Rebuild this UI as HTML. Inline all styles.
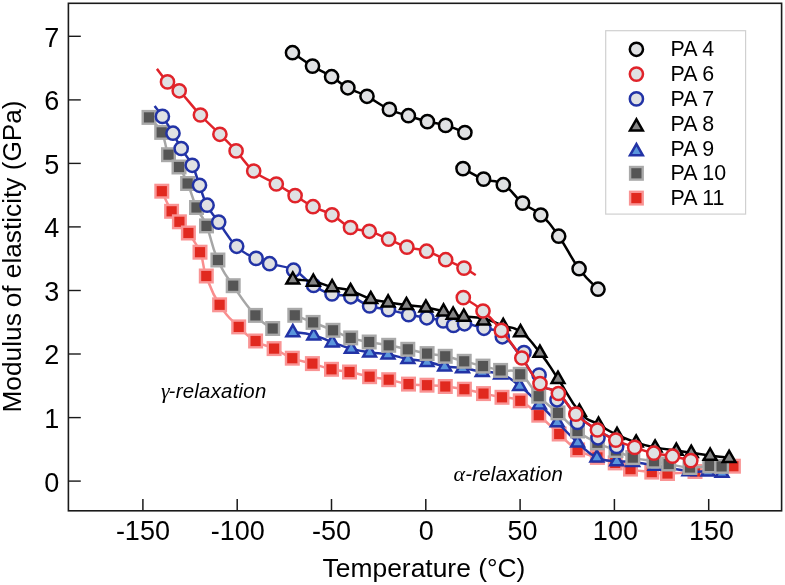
<!DOCTYPE html>
<html><head><meta charset="utf-8"><title>Modulus of elasticity vs temperature</title>
<style>html,body{margin:0;padding:0;background:#fff;}svg{display:block;}</style>
</head><body>
<svg width="785" height="585" viewBox="0 0 785 585"><rect width="785" height="585" fill="#fff"/><path d="M161.8,191.2 C164.4,196.6 166.9,203.1 171.6,211.3 C176.3,219.5 174.9,216 179.4,221.8 C183.9,227.6 182.9,224.9 188.4,233 C193.9,241.1 195.2,240.7 200,252.2 C204.8,263.7 201.1,262 206.3,276 C211.5,290 211,291.2 219.6,304.8 C228.2,318.4 229.1,317.2 238.7,326.9 C248.3,336.6 246.2,335.2 255.6,341 C265,346.8 264.3,344 274.1,348.6 C283.9,353.2 282.1,354.2 292.3,358.2 C302.5,362.2 301.9,360.6 312.4,363.6 C322.9,366.6 321.6,367.1 331.5,369.3 C341.4,371.5 339.3,370 349.5,372 C359.7,374 359.1,374.6 369.6,376.7 C380.1,378.8 378.3,377.7 388.7,379.7 C399.1,381.7 398.3,382.6 408.5,384.1 C418.7,385.6 417.2,384.6 427,385.2 C436.8,385.8 435.3,385.4 445.3,386.5 C455.3,387.6 454.2,387.3 464.4,389.2 C474.6,391.1 473.5,391.4 483.5,393.6 C493.5,395.8 492.2,395.4 502,397.3 C511.8,399.2 510.5,396 520.3,400.8 C530.1,405.6 528.4,406.3 538.8,415.2 C549.2,424.1 548.9,424.7 559.2,434 C569.5,443.3 567.4,443.7 577.6,449.9 C587.8,456.1 587.4,453.9 597.4,457.4 C607.4,460.9 606.4,459.8 615.2,462.9 C624,466 620.7,466.6 630.5,469.1 C640.3,471.6 641.9,470.9 651.8,472.1 C661.7,473.3 656,473.7 667.5,473.5 C679,473.3 677.4,473.4 695,471.5 C712.6,469.6 723.2,467.6 733.4,466.2" fill="none" stroke="#f98e8e" stroke-width="2.5" stroke-linejoin="round" stroke-linecap="butt"/><rect x="155.5" y="184.9" width="12.6" height="12.6" fill="#e1291f" stroke="#f99494" stroke-width="2.4"/><rect x="165.3" y="205" width="12.6" height="12.6" fill="#e1291f" stroke="#f99494" stroke-width="2.4"/><rect x="173.1" y="215.5" width="12.6" height="12.6" fill="#e1291f" stroke="#f99494" stroke-width="2.4"/><rect x="182.1" y="226.7" width="12.6" height="12.6" fill="#e1291f" stroke="#f99494" stroke-width="2.4"/><rect x="193.7" y="245.9" width="12.6" height="12.6" fill="#e1291f" stroke="#f99494" stroke-width="2.4"/><rect x="200" y="269.7" width="12.6" height="12.6" fill="#e1291f" stroke="#f99494" stroke-width="2.4"/><rect x="213.3" y="298.5" width="12.6" height="12.6" fill="#e1291f" stroke="#f99494" stroke-width="2.4"/><rect x="232.4" y="320.6" width="12.6" height="12.6" fill="#e1291f" stroke="#f99494" stroke-width="2.4"/><rect x="249.3" y="334.7" width="12.6" height="12.6" fill="#e1291f" stroke="#f99494" stroke-width="2.4"/><rect x="267.8" y="342.3" width="12.6" height="12.6" fill="#e1291f" stroke="#f99494" stroke-width="2.4"/><rect x="286" y="351.9" width="12.6" height="12.6" fill="#e1291f" stroke="#f99494" stroke-width="2.4"/><rect x="306.1" y="357.3" width="12.6" height="12.6" fill="#e1291f" stroke="#f99494" stroke-width="2.4"/><rect x="325.2" y="363" width="12.6" height="12.6" fill="#e1291f" stroke="#f99494" stroke-width="2.4"/><rect x="343.2" y="365.7" width="12.6" height="12.6" fill="#e1291f" stroke="#f99494" stroke-width="2.4"/><rect x="363.3" y="370.4" width="12.6" height="12.6" fill="#e1291f" stroke="#f99494" stroke-width="2.4"/><rect x="382.4" y="373.4" width="12.6" height="12.6" fill="#e1291f" stroke="#f99494" stroke-width="2.4"/><rect x="402.2" y="377.8" width="12.6" height="12.6" fill="#e1291f" stroke="#f99494" stroke-width="2.4"/><rect x="420.7" y="378.9" width="12.6" height="12.6" fill="#e1291f" stroke="#f99494" stroke-width="2.4"/><rect x="439" y="380.2" width="12.6" height="12.6" fill="#e1291f" stroke="#f99494" stroke-width="2.4"/><rect x="458.1" y="382.9" width="12.6" height="12.6" fill="#e1291f" stroke="#f99494" stroke-width="2.4"/><rect x="477.2" y="387.3" width="12.6" height="12.6" fill="#e1291f" stroke="#f99494" stroke-width="2.4"/><rect x="495.7" y="391" width="12.6" height="12.6" fill="#e1291f" stroke="#f99494" stroke-width="2.4"/><rect x="514" y="394.5" width="12.6" height="12.6" fill="#e1291f" stroke="#f99494" stroke-width="2.4"/><rect x="532.5" y="408.9" width="12.6" height="12.6" fill="#e1291f" stroke="#f99494" stroke-width="2.4"/><rect x="552.9" y="427.7" width="12.6" height="12.6" fill="#e1291f" stroke="#f99494" stroke-width="2.4"/><rect x="571.3" y="443.6" width="12.6" height="12.6" fill="#e1291f" stroke="#f99494" stroke-width="2.4"/><rect x="591.1" y="451.1" width="12.6" height="12.6" fill="#e1291f" stroke="#f99494" stroke-width="2.4"/><rect x="608.9" y="456.6" width="12.6" height="12.6" fill="#e1291f" stroke="#f99494" stroke-width="2.4"/><rect x="624.2" y="462.8" width="12.6" height="12.6" fill="#e1291f" stroke="#f99494" stroke-width="2.4"/><rect x="645.5" y="465.8" width="12.6" height="12.6" fill="#e1291f" stroke="#f99494" stroke-width="2.4"/><rect x="661.2" y="467.2" width="12.6" height="12.6" fill="#e1291f" stroke="#f99494" stroke-width="2.4"/><rect x="688.7" y="465.2" width="12.6" height="12.6" fill="#e1291f" stroke="#f99494" stroke-width="2.4"/><rect x="727.1" y="459.9" width="12.6" height="12.6" fill="#e1291f" stroke="#f99494" stroke-width="2.4"/><path d="M292.8,332.1 C298.4,332.9 303.2,332.6 313.7,335.4 C324.2,338.1 322.2,338.7 332.2,342.2 C342.2,345.8 341.3,345.9 351.3,348.6 C361.3,351.2 359.8,350.8 369.6,352.4 C379.4,353.9 377.8,352.7 388,354.4 C398.2,356.2 397.5,357 407.9,358.9 C418.3,360.9 417.2,359.7 427,361.7 C436.8,363.6 435.1,364.5 444.6,366.2 C454.1,368 452.5,366.6 462.5,368.1 C472.5,369.5 472,370.1 482.2,371.8 C492.4,373.4 490.6,370.5 500.6,374.2 C510.6,378 509.3,377.8 519.6,385.8 C529.9,393.8 529.4,394.6 539.4,404.2 C549.4,413.9 547,411.9 557.2,422.1 C567.4,432.2 567,433 577.6,442.4 C588.2,451.9 586.5,452.4 596.9,457.4 C607.3,462.3 607.2,459.9 616.7,461.1 C626.2,462.2 622.5,460.7 632.7,461.9 C642.9,463.1 640,463.1 655,465.6 C670,468 674.9,469.5 689,471.1 C703.1,472.6 699.2,471 708,471.4 C716.8,471.8 718.3,472.2 722,472.6" fill="none" stroke="#2233a6" stroke-width="2.5" stroke-linejoin="round" stroke-linecap="butt"/><polygon points="292.8,325.1 286.4,336.2 299.2,336.2" fill="#5a96dc" stroke="#2233a6" stroke-width="2.5" stroke-linejoin="miter"/><polygon points="313.7,328.4 307.3,339.6 320.1,339.6" fill="#5a96dc" stroke="#2233a6" stroke-width="2.5" stroke-linejoin="miter"/><polygon points="332.2,335.2 325.8,346.4 338.6,346.4" fill="#5a96dc" stroke="#2233a6" stroke-width="2.5" stroke-linejoin="miter"/><polygon points="351.3,341.6 344.9,352.8 357.7,352.8" fill="#5a96dc" stroke="#2233a6" stroke-width="2.5" stroke-linejoin="miter"/><polygon points="369.6,345.4 363.2,356.6 376,356.6" fill="#5a96dc" stroke="#2233a6" stroke-width="2.5" stroke-linejoin="miter"/><polygon points="388,347.4 381.6,358.6 394.4,358.6" fill="#5a96dc" stroke="#2233a6" stroke-width="2.5" stroke-linejoin="miter"/><polygon points="407.9,351.9 401.5,363.1 414.3,363.1" fill="#5a96dc" stroke="#2233a6" stroke-width="2.5" stroke-linejoin="miter"/><polygon points="427,354.7 420.6,365.9 433.4,365.9" fill="#5a96dc" stroke="#2233a6" stroke-width="2.5" stroke-linejoin="miter"/><polygon points="444.6,359.2 438.2,370.4 451,370.4" fill="#5a96dc" stroke="#2233a6" stroke-width="2.5" stroke-linejoin="miter"/><polygon points="462.5,361.1 456.1,372.2 468.9,372.2" fill="#5a96dc" stroke="#2233a6" stroke-width="2.5" stroke-linejoin="miter"/><polygon points="482.2,364.8 475.8,375.9 488.6,375.9" fill="#5a96dc" stroke="#2233a6" stroke-width="2.5" stroke-linejoin="miter"/><polygon points="500.6,367.2 494.2,378.4 507,378.4" fill="#5a96dc" stroke="#2233a6" stroke-width="2.5" stroke-linejoin="miter"/><polygon points="519.6,378.8 513.2,389.9 526,389.9" fill="#5a96dc" stroke="#2233a6" stroke-width="2.5" stroke-linejoin="miter"/><polygon points="539.4,397.2 533,408.4 545.8,408.4" fill="#5a96dc" stroke="#2233a6" stroke-width="2.5" stroke-linejoin="miter"/><polygon points="557.2,415.1 550.8,426.2 563.6,426.2" fill="#5a96dc" stroke="#2233a6" stroke-width="2.5" stroke-linejoin="miter"/><polygon points="577.6,435.4 571.2,446.6 584,446.6" fill="#5a96dc" stroke="#2233a6" stroke-width="2.5" stroke-linejoin="miter"/><polygon points="596.9,450.4 590.5,461.6 603.3,461.6" fill="#5a96dc" stroke="#2233a6" stroke-width="2.5" stroke-linejoin="miter"/><polygon points="616.7,454.1 610.3,465.2 623.1,465.2" fill="#5a96dc" stroke="#2233a6" stroke-width="2.5" stroke-linejoin="miter"/><polygon points="632.7,454.9 626.3,466.1 639.1,466.1" fill="#5a96dc" stroke="#2233a6" stroke-width="2.5" stroke-linejoin="miter"/><polygon points="655,458.6 648.6,469.8 661.4,469.8" fill="#5a96dc" stroke="#2233a6" stroke-width="2.5" stroke-linejoin="miter"/><polygon points="689,464.1 682.6,475.2 695.4,475.2" fill="#5a96dc" stroke="#2233a6" stroke-width="2.5" stroke-linejoin="miter"/><polygon points="708,464.4 701.6,475.6 714.4,475.6" fill="#5a96dc" stroke="#2233a6" stroke-width="2.5" stroke-linejoin="miter"/><polygon points="722,465.6 715.6,476.8 728.4,476.8" fill="#5a96dc" stroke="#2233a6" stroke-width="2.5" stroke-linejoin="miter"/><path d="M149,117.4 C152.4,121.4 156.5,122.5 161.7,132.4 C166.9,142.3 163.9,145.5 168.5,154.7 C173.1,163.9 173.9,159.3 179,167 C184.1,174.7 182.9,172.7 187.6,183.5 C192.3,194.3 191.5,196.2 196.5,207.5 C201.5,218.8 200.8,211.9 206.5,225.9 C212.2,239.9 210.8,244.1 217.9,260 C225,275.9 223.2,270.9 233.2,285.7 C243.2,300.5 244.9,304 255.4,315.4 C265.9,326.8 268.1,325 272.7,328.5" fill="none" stroke="#a6a6a6" stroke-width="2.5" stroke-linejoin="round" stroke-linecap="butt"/><path d="M294.8,315.3 C299.7,317.2 302.9,318.4 313.1,322.4 C323.3,326.4 323,326.2 333,330.3 C343,334.4 341,334.8 350.7,337.9 C360.4,341 359.1,340 369.2,342 C379.3,344 378.4,343.4 388.7,345.3 C399,347.2 397.6,347.1 407.8,349.3 C418,351.5 417.1,351.7 427.1,353.6 C437.1,355.5 435.3,354.2 445.2,356.3 C455.1,358.4 454.1,358.7 464.2,361.3 C474.3,363.9 473.3,363.7 483,366.1 C492.7,368.5 490.7,368.2 500.6,370.4 C510.5,372.6 510,367.4 520.2,374.3 C530.4,381.2 528.6,385.9 538.7,396.2 C548.8,406.5 547.7,403.6 558,412.9 C568.3,422.2 567,423 577.5,431 C588,439 587.1,437.6 597.4,442.8 C607.7,448 606.6,446.6 616,450.5 C625.4,454.4 622.7,454.7 632.8,457.6 C642.9,460.5 644.4,459.5 654,461.2 C663.6,462.9 659.1,462.3 668.7,464 C678.3,465.7 679,467 690,467.5 C701,468 701.4,466.2 709.8,465.9 C718.2,465.6 718.5,466.3 721.6,466.4" fill="none" stroke="#a6a6a6" stroke-width="2.5" stroke-linejoin="round" stroke-linecap="butt"/><rect x="142.7" y="111.1" width="12.6" height="12.6" fill="#555555" stroke="#a9a9a9" stroke-width="2.4"/><rect x="155.4" y="126.1" width="12.6" height="12.6" fill="#555555" stroke="#a9a9a9" stroke-width="2.4"/><rect x="162.2" y="148.4" width="12.6" height="12.6" fill="#555555" stroke="#a9a9a9" stroke-width="2.4"/><rect x="172.7" y="160.7" width="12.6" height="12.6" fill="#555555" stroke="#a9a9a9" stroke-width="2.4"/><rect x="181.3" y="177.2" width="12.6" height="12.6" fill="#555555" stroke="#a9a9a9" stroke-width="2.4"/><rect x="190.2" y="201.2" width="12.6" height="12.6" fill="#555555" stroke="#a9a9a9" stroke-width="2.4"/><rect x="200.2" y="219.6" width="12.6" height="12.6" fill="#555555" stroke="#a9a9a9" stroke-width="2.4"/><rect x="211.6" y="253.7" width="12.6" height="12.6" fill="#555555" stroke="#a9a9a9" stroke-width="2.4"/><rect x="226.9" y="279.4" width="12.6" height="12.6" fill="#555555" stroke="#a9a9a9" stroke-width="2.4"/><rect x="249.1" y="309.1" width="12.6" height="12.6" fill="#555555" stroke="#a9a9a9" stroke-width="2.4"/><rect x="266.4" y="322.2" width="12.6" height="12.6" fill="#555555" stroke="#a9a9a9" stroke-width="2.4"/><rect x="288.5" y="309" width="12.6" height="12.6" fill="#555555" stroke="#a9a9a9" stroke-width="2.4"/><rect x="306.8" y="316.1" width="12.6" height="12.6" fill="#555555" stroke="#a9a9a9" stroke-width="2.4"/><rect x="326.7" y="324" width="12.6" height="12.6" fill="#555555" stroke="#a9a9a9" stroke-width="2.4"/><rect x="344.4" y="331.6" width="12.6" height="12.6" fill="#555555" stroke="#a9a9a9" stroke-width="2.4"/><rect x="362.9" y="335.7" width="12.6" height="12.6" fill="#555555" stroke="#a9a9a9" stroke-width="2.4"/><rect x="382.4" y="339" width="12.6" height="12.6" fill="#555555" stroke="#a9a9a9" stroke-width="2.4"/><rect x="401.5" y="343" width="12.6" height="12.6" fill="#555555" stroke="#a9a9a9" stroke-width="2.4"/><rect x="420.8" y="347.3" width="12.6" height="12.6" fill="#555555" stroke="#a9a9a9" stroke-width="2.4"/><rect x="438.9" y="350" width="12.6" height="12.6" fill="#555555" stroke="#a9a9a9" stroke-width="2.4"/><rect x="457.9" y="355" width="12.6" height="12.6" fill="#555555" stroke="#a9a9a9" stroke-width="2.4"/><rect x="476.7" y="359.8" width="12.6" height="12.6" fill="#555555" stroke="#a9a9a9" stroke-width="2.4"/><rect x="494.3" y="364.1" width="12.6" height="12.6" fill="#555555" stroke="#a9a9a9" stroke-width="2.4"/><rect x="513.9" y="368" width="12.6" height="12.6" fill="#555555" stroke="#a9a9a9" stroke-width="2.4"/><rect x="532.4" y="389.9" width="12.6" height="12.6" fill="#555555" stroke="#a9a9a9" stroke-width="2.4"/><rect x="551.7" y="406.6" width="12.6" height="12.6" fill="#555555" stroke="#a9a9a9" stroke-width="2.4"/><rect x="571.2" y="424.7" width="12.6" height="12.6" fill="#555555" stroke="#a9a9a9" stroke-width="2.4"/><rect x="591.1" y="436.5" width="12.6" height="12.6" fill="#555555" stroke="#a9a9a9" stroke-width="2.4"/><rect x="609.7" y="444.2" width="12.6" height="12.6" fill="#555555" stroke="#a9a9a9" stroke-width="2.4"/><rect x="626.5" y="451.3" width="12.6" height="12.6" fill="#555555" stroke="#a9a9a9" stroke-width="2.4"/><rect x="647.7" y="454.9" width="12.6" height="12.6" fill="#555555" stroke="#a9a9a9" stroke-width="2.4"/><rect x="662.4" y="457.7" width="12.6" height="12.6" fill="#555555" stroke="#a9a9a9" stroke-width="2.4"/><rect x="683.7" y="461.2" width="12.6" height="12.6" fill="#555555" stroke="#a9a9a9" stroke-width="2.4"/><rect x="703.5" y="459.6" width="12.6" height="12.6" fill="#555555" stroke="#a9a9a9" stroke-width="2.4"/><rect x="715.3" y="460.1" width="12.6" height="12.6" fill="#555555" stroke="#a9a9a9" stroke-width="2.4"/><path d="M154.6,106.1 C156.7,108.8 157.5,109.2 162.4,116.4 C167.3,123.6 168,124.6 173,133.2 C178,141.8 176.1,139.9 181.2,148.5 C186.3,157.1 187.3,155.5 192.2,165.3 C197.1,175.1 195.5,174.7 199.5,185.3 C203.5,195.9 202,195.4 207.1,205.2 C212.2,215 210.8,211.1 218.7,222.1 C226.6,233.1 226.7,236.6 236.7,246.3 C246.7,256 247.3,253.8 256.1,258.4 C264.9,263 259.6,260.6 269.6,263.7 C279.6,266.8 281.9,264.4 293.6,270.2 C305.3,276 303.4,279.2 313.6,285.5 C323.8,291.8 322.1,291 332,294 C341.9,297 340.9,293.6 350.9,296.8 C360.9,300 359.6,302.6 369.6,306 C379.6,309.4 378,307.3 388.4,309.6 C398.8,311.9 398.4,312.5 408.6,314.7 C418.8,316.9 417.5,316.1 426.8,317.8 C436.1,319.5 436.2,319 443.3,321 C450.4,323 447.8,324.7 453.5,325.4 C459.2,326.1 456.4,323 464.5,323.8 C472.6,324.6 474,325.4 484,328.3 C494,331.2 491.9,326.6 502,334.5 C512.1,342.4 511.7,344.9 521.8,358 C531.9,371.1 530.2,374.1 540,383.6 C549.8,393.1 548.9,385.4 558.4,393.5 C567.9,401.6 565.4,404.4 575.8,414.1 C586.2,423.8 586.7,423.1 597.4,430 C608.1,436.9 610.9,437.4 615.8,440.1" fill="none" stroke="#2233a6" stroke-width="2.5" stroke-linejoin="round" stroke-linecap="butt"/><circle cx="162.4" cy="116.4" r="6.6" fill="#e0e1e3" stroke="#2233a6" stroke-width="2.5"/><circle cx="173" cy="133.2" r="6.6" fill="#e0e1e3" stroke="#2233a6" stroke-width="2.5"/><circle cx="181.2" cy="148.5" r="6.6" fill="#e0e1e3" stroke="#2233a6" stroke-width="2.5"/><circle cx="192.2" cy="165.3" r="6.6" fill="#e0e1e3" stroke="#2233a6" stroke-width="2.5"/><circle cx="199.5" cy="185.3" r="6.6" fill="#e0e1e3" stroke="#2233a6" stroke-width="2.5"/><circle cx="207.1" cy="205.2" r="6.6" fill="#e0e1e3" stroke="#2233a6" stroke-width="2.5"/><circle cx="218.7" cy="222.1" r="6.6" fill="#e0e1e3" stroke="#2233a6" stroke-width="2.5"/><circle cx="236.7" cy="246.3" r="6.6" fill="#e0e1e3" stroke="#2233a6" stroke-width="2.5"/><circle cx="256.1" cy="258.4" r="6.6" fill="#e0e1e3" stroke="#2233a6" stroke-width="2.5"/><circle cx="269.6" cy="263.7" r="6.6" fill="#e0e1e3" stroke="#2233a6" stroke-width="2.5"/><circle cx="293.6" cy="270.2" r="6.6" fill="#e0e1e3" stroke="#2233a6" stroke-width="2.5"/><circle cx="313.6" cy="285.5" r="6.6" fill="#e0e1e3" stroke="#2233a6" stroke-width="2.5"/><circle cx="332" cy="294" r="6.6" fill="#e0e1e3" stroke="#2233a6" stroke-width="2.5"/><circle cx="350.9" cy="296.8" r="6.6" fill="#e0e1e3" stroke="#2233a6" stroke-width="2.5"/><circle cx="369.6" cy="306" r="6.6" fill="#e0e1e3" stroke="#2233a6" stroke-width="2.5"/><circle cx="388.4" cy="309.6" r="6.6" fill="#e0e1e3" stroke="#2233a6" stroke-width="2.5"/><circle cx="408.6" cy="314.7" r="6.6" fill="#e0e1e3" stroke="#2233a6" stroke-width="2.5"/><circle cx="426.8" cy="317.8" r="6.6" fill="#e0e1e3" stroke="#2233a6" stroke-width="2.5"/><circle cx="443.3" cy="321" r="6.6" fill="#e0e1e3" stroke="#2233a6" stroke-width="2.5"/><circle cx="453.5" cy="325.4" r="6.6" fill="#e0e1e3" stroke="#2233a6" stroke-width="2.5"/><circle cx="464.5" cy="323.8" r="6.6" fill="#e0e1e3" stroke="#2233a6" stroke-width="2.5"/><circle cx="484" cy="328.3" r="6.6" fill="#e0e1e3" stroke="#2233a6" stroke-width="2.5"/><circle cx="502.3" cy="336.8" r="6.6" fill="#e0e1e3" stroke="#2233a6" stroke-width="2.5"/><circle cx="524" cy="352.5" r="6.6" fill="#e0e1e3" stroke="#2233a6" stroke-width="2.5"/><circle cx="539.1" cy="375" r="6.6" fill="#e0e1e3" stroke="#2233a6" stroke-width="2.5"/><circle cx="557" cy="399.8" r="6.6" fill="#e0e1e3" stroke="#2233a6" stroke-width="2.5"/><circle cx="577.5" cy="422.5" r="6.6" fill="#e0e1e3" stroke="#2233a6" stroke-width="2.5"/><circle cx="598" cy="437.8" r="6.6" fill="#e0e1e3" stroke="#2233a6" stroke-width="2.5"/><circle cx="616.7" cy="446.5" r="6.6" fill="#e0e1e3" stroke="#2233a6" stroke-width="2.5"/><path d="M292.8,279.4 C298.3,280 302.8,279.5 313.3,281.5 C323.8,283.5 322.2,284.5 332.1,287 C342,289.5 340.3,287.7 350.6,290.9 C360.9,294.1 360.8,295.9 370.8,298.9 C380.8,301.9 378.6,300.7 388.1,302.3 C397.6,303.9 396.4,303.5 406.5,304.9 C416.6,306.3 416,305.7 425.9,307.4 C435.8,309.1 436.2,309.4 443.5,311.3 C450.8,313.2 447.7,313.1 453.1,314.5 C458.5,315.9 455.7,315.4 463.8,316.5 C471.9,317.6 473,316 483.5,318.5 C494,321 493.3,322.2 503.2,325.8 C513.1,329.4 510.7,324.9 520.5,332 C530.3,339.1 529.9,340.1 539.9,352.6 C549.9,365.1 547.5,363 558,378.7 C568.5,394.4 568.6,399.3 579.4,411.5 C590.2,423.7 588.5,418.4 598.5,424.6 C608.5,430.8 606.9,430.1 617,434.8 C627.1,439.5 626,439 636.2,442.4 C646.4,445.8 644.4,445.2 655.1,447.4 C665.8,449.6 666.6,449.2 676.3,450.6 C686,452 682.3,451.4 691.3,452.7 C700.3,454 700,454.1 710.1,455.5 C720.2,456.9 724,457.2 729.1,457.8" fill="none" stroke="#000" stroke-width="2.5" stroke-linejoin="round" stroke-linecap="butt"/><polygon points="292.8,272.4 286.4,283.6 299.2,283.6" fill="#868686" stroke="#000" stroke-width="2.5" stroke-linejoin="miter"/><polygon points="313.3,274.5 306.9,285.7 319.7,285.7" fill="#868686" stroke="#000" stroke-width="2.5" stroke-linejoin="miter"/><polygon points="332.1,280 325.7,291.2 338.5,291.2" fill="#868686" stroke="#000" stroke-width="2.5" stroke-linejoin="miter"/><polygon points="350.6,283.9 344.2,295.1 357,295.1" fill="#868686" stroke="#000" stroke-width="2.5" stroke-linejoin="miter"/><polygon points="370.8,291.9 364.4,303.1 377.2,303.1" fill="#868686" stroke="#000" stroke-width="2.5" stroke-linejoin="miter"/><polygon points="388.1,295.3 381.7,306.5 394.5,306.5" fill="#868686" stroke="#000" stroke-width="2.5" stroke-linejoin="miter"/><polygon points="406.5,297.9 400.1,309.1 412.9,309.1" fill="#868686" stroke="#000" stroke-width="2.5" stroke-linejoin="miter"/><polygon points="425.9,300.4 419.5,311.6 432.3,311.6" fill="#868686" stroke="#000" stroke-width="2.5" stroke-linejoin="miter"/><polygon points="443.5,304.3 437.1,315.5 449.9,315.5" fill="#868686" stroke="#000" stroke-width="2.5" stroke-linejoin="miter"/><polygon points="453.1,307.5 446.7,318.7 459.5,318.7" fill="#868686" stroke="#000" stroke-width="2.5" stroke-linejoin="miter"/><polygon points="463.8,309.5 457.4,320.7 470.2,320.7" fill="#868686" stroke="#000" stroke-width="2.5" stroke-linejoin="miter"/><polygon points="483.5,313.2 477.1,324.4 489.9,324.4" fill="#868686" stroke="#000" stroke-width="2.5" stroke-linejoin="miter"/><polygon points="503.2,318.8 496.8,330 509.6,330" fill="#868686" stroke="#000" stroke-width="2.5" stroke-linejoin="miter"/><polygon points="520.5,325 514.1,336.2 526.9,336.2" fill="#868686" stroke="#000" stroke-width="2.5" stroke-linejoin="miter"/><polygon points="539.9,345.6 533.5,356.8 546.3,356.8" fill="#868686" stroke="#000" stroke-width="2.5" stroke-linejoin="miter"/><polygon points="558,371.7 551.6,382.9 564.4,382.9" fill="#868686" stroke="#000" stroke-width="2.5" stroke-linejoin="miter"/><polygon points="579.4,404.5 573,415.7 585.8,415.7" fill="#868686" stroke="#000" stroke-width="2.5" stroke-linejoin="miter"/><polygon points="598.5,417.6 592.1,428.8 604.9,428.8" fill="#868686" stroke="#000" stroke-width="2.5" stroke-linejoin="miter"/><polygon points="617,427.8 610.6,439 623.4,439" fill="#868686" stroke="#000" stroke-width="2.5" stroke-linejoin="miter"/><polygon points="636.2,435.4 629.8,446.6 642.6,446.6" fill="#868686" stroke="#000" stroke-width="2.5" stroke-linejoin="miter"/><polygon points="655.1,440.4 648.7,451.6 661.5,451.6" fill="#868686" stroke="#000" stroke-width="2.5" stroke-linejoin="miter"/><polygon points="676.3,443.6 669.9,454.8 682.7,454.8" fill="#868686" stroke="#000" stroke-width="2.5" stroke-linejoin="miter"/><polygon points="691.3,445.7 684.9,456.9 697.7,456.9" fill="#868686" stroke="#000" stroke-width="2.5" stroke-linejoin="miter"/><polygon points="710.1,448.5 703.7,459.7 716.5,459.7" fill="#868686" stroke="#000" stroke-width="2.5" stroke-linejoin="miter"/><polygon points="729.1,450.8 722.7,462 735.5,462" fill="#868686" stroke="#000" stroke-width="2.5" stroke-linejoin="miter"/><path d="M156.9,68.9 C159.7,72.4 161.6,76.1 167.5,81.9 C173.4,87.7 170.4,82 179.2,90.8 C188,99.6 189.5,103.4 200.4,115 C211.3,126.6 210.4,124.7 219.9,134.3 C229.4,143.9 227.1,141.1 236.1,150.9 C245.1,160.7 243,162.2 253.7,171 C264.4,179.8 265.3,177.4 276.3,184 C287.3,190.6 285.3,189.5 295.1,195.6 C304.9,201.7 303.2,201.6 313,206.7 C322.8,211.8 322,209.3 332,214.8 C342,220.3 340.6,223.1 350.5,227.5 C360.4,231.9 359.1,228.2 369.3,231.3 C379.5,234.4 378.6,234.9 388.6,239.1 C398.6,243.3 396.8,243.9 406.9,247.1 C417,250.3 416.3,247.8 426.6,251.2 C436.9,254.6 435.7,255.2 445.7,259.7 C455.7,264.2 456,264 464,268.1 C472,272.2 472.7,273.2 475.8,275" fill="none" stroke="#e0232a" stroke-width="2.5" stroke-linejoin="round" stroke-linecap="butt"/><path d="M463.3,297.6 C468.6,301.2 472.9,302.3 483,311 C493.1,319.7 491,317.9 501.3,330.4 C511.6,342.9 511.5,343.8 521.8,358 C532.1,372.2 530.2,374.1 540,383.6 C549.8,393.1 548.9,385.4 558.4,393.5 C567.9,401.6 565.4,404.4 575.8,414.1 C586.2,423.8 586.7,423.1 597.4,430 C608.1,436.9 605.9,435.5 615.8,440.1 C625.7,444.7 624.6,443.9 634.7,447.4 C644.8,450.9 643.7,450.9 653.8,453.2 C663.9,455.5 662.6,454.2 672.5,456.2 C682.4,458.2 685.9,459.4 690.8,460.6" fill="none" stroke="#e0232a" stroke-width="2.5" stroke-linejoin="round" stroke-linecap="butt"/><circle cx="167.5" cy="81.9" r="6.6" fill="#e0e1e3" stroke="#e0232a" stroke-width="2.5"/><circle cx="179.2" cy="90.8" r="6.6" fill="#e0e1e3" stroke="#e0232a" stroke-width="2.5"/><circle cx="200.4" cy="115" r="6.6" fill="#e0e1e3" stroke="#e0232a" stroke-width="2.5"/><circle cx="219.9" cy="134.3" r="6.6" fill="#e0e1e3" stroke="#e0232a" stroke-width="2.5"/><circle cx="236.1" cy="150.9" r="6.6" fill="#e0e1e3" stroke="#e0232a" stroke-width="2.5"/><circle cx="253.7" cy="171" r="6.6" fill="#e0e1e3" stroke="#e0232a" stroke-width="2.5"/><circle cx="276.3" cy="184" r="6.6" fill="#e0e1e3" stroke="#e0232a" stroke-width="2.5"/><circle cx="295.1" cy="195.6" r="6.6" fill="#e0e1e3" stroke="#e0232a" stroke-width="2.5"/><circle cx="313" cy="206.7" r="6.6" fill="#e0e1e3" stroke="#e0232a" stroke-width="2.5"/><circle cx="332" cy="214.8" r="6.6" fill="#e0e1e3" stroke="#e0232a" stroke-width="2.5"/><circle cx="350.5" cy="227.5" r="6.6" fill="#e0e1e3" stroke="#e0232a" stroke-width="2.5"/><circle cx="369.3" cy="231.3" r="6.6" fill="#e0e1e3" stroke="#e0232a" stroke-width="2.5"/><circle cx="388.6" cy="239.1" r="6.6" fill="#e0e1e3" stroke="#e0232a" stroke-width="2.5"/><circle cx="406.9" cy="247.1" r="6.6" fill="#e0e1e3" stroke="#e0232a" stroke-width="2.5"/><circle cx="426.6" cy="251.2" r="6.6" fill="#e0e1e3" stroke="#e0232a" stroke-width="2.5"/><circle cx="445.7" cy="259.7" r="6.6" fill="#e0e1e3" stroke="#e0232a" stroke-width="2.5"/><circle cx="464" cy="268.1" r="6.6" fill="#e0e1e3" stroke="#e0232a" stroke-width="2.5"/><circle cx="463.3" cy="297.6" r="6.6" fill="#e0e1e3" stroke="#e0232a" stroke-width="2.5"/><circle cx="483" cy="311" r="6.6" fill="#e0e1e3" stroke="#e0232a" stroke-width="2.5"/><circle cx="501.3" cy="330.4" r="6.6" fill="#e0e1e3" stroke="#e0232a" stroke-width="2.5"/><circle cx="521.8" cy="358" r="6.6" fill="#e0e1e3" stroke="#e0232a" stroke-width="2.5"/><circle cx="540" cy="383.6" r="6.6" fill="#e0e1e3" stroke="#e0232a" stroke-width="2.5"/><circle cx="558.4" cy="393.5" r="6.6" fill="#e0e1e3" stroke="#e0232a" stroke-width="2.5"/><circle cx="575.8" cy="414.1" r="6.6" fill="#e0e1e3" stroke="#e0232a" stroke-width="2.5"/><circle cx="597.4" cy="430" r="6.6" fill="#e0e1e3" stroke="#e0232a" stroke-width="2.5"/><circle cx="615.8" cy="440.1" r="6.6" fill="#e0e1e3" stroke="#e0232a" stroke-width="2.5"/><circle cx="634.7" cy="447.4" r="6.6" fill="#e0e1e3" stroke="#e0232a" stroke-width="2.5"/><circle cx="653.8" cy="453.2" r="6.6" fill="#e0e1e3" stroke="#e0232a" stroke-width="2.5"/><circle cx="672.5" cy="456.2" r="6.6" fill="#e0e1e3" stroke="#e0232a" stroke-width="2.5"/><circle cx="690.8" cy="460.6" r="6.6" fill="#e0e1e3" stroke="#e0232a" stroke-width="2.5"/><path d="M292.5,52.7 C297.8,56.3 302.1,59.7 312.5,66.1 C322.9,72.5 322.2,70.9 331.6,76.7 C341,82.5 338.5,82.6 347.9,87.8 C357.3,93 355.9,90.5 367,96.3 C378.1,102.1 378.4,104.2 389.4,109.4 C400.4,114.6 398.3,112.4 408.4,115.7 C418.5,119 417.5,119 427.4,121.6 C437.3,124.2 435.6,122.5 445.6,125.4 C455.6,128.3 459.8,130.6 464.9,132.5" fill="none" stroke="#000" stroke-width="2.5" stroke-linejoin="round" stroke-linecap="butt"/><path d="M463,168.6 C468.5,171.4 472.9,174.8 483.6,179.1 C494.3,183.4 492.9,178.3 503.3,184.7 C513.7,191.1 512.6,195 522.6,203.1 C532.6,211.2 531.2,206.2 540.8,215 C550.4,223.8 548.5,221.9 558.7,236.2 C568.9,250.5 568.6,254.6 579.1,268.7 C589.6,282.8 593,283.7 598,289.2" fill="none" stroke="#000" stroke-width="2.5" stroke-linejoin="round" stroke-linecap="butt"/><circle cx="292.5" cy="52.7" r="6.6" fill="#e0e1e3" stroke="#000" stroke-width="2.5"/><circle cx="312.5" cy="66.1" r="6.6" fill="#e0e1e3" stroke="#000" stroke-width="2.5"/><circle cx="331.6" cy="76.7" r="6.6" fill="#e0e1e3" stroke="#000" stroke-width="2.5"/><circle cx="347.9" cy="87.8" r="6.6" fill="#e0e1e3" stroke="#000" stroke-width="2.5"/><circle cx="367" cy="96.3" r="6.6" fill="#e0e1e3" stroke="#000" stroke-width="2.5"/><circle cx="389.4" cy="109.4" r="6.6" fill="#e0e1e3" stroke="#000" stroke-width="2.5"/><circle cx="408.4" cy="115.7" r="6.6" fill="#e0e1e3" stroke="#000" stroke-width="2.5"/><circle cx="427.4" cy="121.6" r="6.6" fill="#e0e1e3" stroke="#000" stroke-width="2.5"/><circle cx="445.6" cy="125.4" r="6.6" fill="#e0e1e3" stroke="#000" stroke-width="2.5"/><circle cx="464.9" cy="132.5" r="6.6" fill="#e0e1e3" stroke="#000" stroke-width="2.5"/><circle cx="463" cy="168.6" r="6.6" fill="#e0e1e3" stroke="#000" stroke-width="2.5"/><circle cx="483.6" cy="179.1" r="6.6" fill="#e0e1e3" stroke="#000" stroke-width="2.5"/><circle cx="503.3" cy="184.7" r="6.6" fill="#e0e1e3" stroke="#000" stroke-width="2.5"/><circle cx="522.6" cy="203.1" r="6.6" fill="#e0e1e3" stroke="#000" stroke-width="2.5"/><circle cx="540.8" cy="215" r="6.6" fill="#e0e1e3" stroke="#000" stroke-width="2.5"/><circle cx="558.7" cy="236.2" r="6.6" fill="#e0e1e3" stroke="#000" stroke-width="2.5"/><circle cx="579.1" cy="268.7" r="6.6" fill="#e0e1e3" stroke="#000" stroke-width="2.5"/><circle cx="598" cy="289.2" r="6.6" fill="#e0e1e3" stroke="#000" stroke-width="2.5"/><rect x="68.4" y="3.3" width="713.2" height="507.5" fill="none" stroke="#1a1a1a" stroke-width="1.6"/><line x1="142.9" y1="510.8" x2="142.9" y2="499.0" stroke="#1a1a1a" stroke-width="1.5"/><line x1="237.2" y1="510.8" x2="237.2" y2="499.0" stroke="#1a1a1a" stroke-width="1.5"/><line x1="331.5" y1="510.8" x2="331.5" y2="499.0" stroke="#1a1a1a" stroke-width="1.5"/><line x1="425.8" y1="510.8" x2="425.8" y2="499.0" stroke="#1a1a1a" stroke-width="1.5"/><line x1="520.1" y1="510.8" x2="520.1" y2="499.0" stroke="#1a1a1a" stroke-width="1.5"/><line x1="614.4" y1="510.8" x2="614.4" y2="499.0" stroke="#1a1a1a" stroke-width="1.5"/><line x1="708.7" y1="510.8" x2="708.7" y2="499.0" stroke="#1a1a1a" stroke-width="1.5"/><line x1="68.4" y1="481.1" x2="80.8" y2="481.1" stroke="#1a1a1a" stroke-width="1.4"/><line x1="68.4" y1="417.6" x2="80.8" y2="417.6" stroke="#1a1a1a" stroke-width="1.4"/><line x1="68.4" y1="354" x2="80.8" y2="354" stroke="#1a1a1a" stroke-width="1.4"/><line x1="68.4" y1="290.5" x2="80.8" y2="290.5" stroke="#1a1a1a" stroke-width="1.4"/><line x1="68.4" y1="226.9" x2="80.8" y2="226.9" stroke="#1a1a1a" stroke-width="1.4"/><line x1="68.4" y1="163.4" x2="80.8" y2="163.4" stroke="#1a1a1a" stroke-width="1.4"/><line x1="68.4" y1="99.9" x2="80.8" y2="99.9" stroke="#1a1a1a" stroke-width="1.4"/><line x1="68.4" y1="36.3" x2="80.8" y2="36.3" stroke="#1a1a1a" stroke-width="1.4"/><text x="142.9" y="540.3" text-anchor="middle" font-size="27" font-family="'Liberation Sans', sans-serif">-150</text><text x="237.7" y="540.3" text-anchor="middle" font-size="27" font-family="'Liberation Sans', sans-serif">-100</text><text x="331.5" y="540.3" text-anchor="middle" font-size="27" font-family="'Liberation Sans', sans-serif">-50</text><text x="426.2" y="540.3" text-anchor="middle" font-size="27" font-family="'Liberation Sans', sans-serif">0</text><text x="522.5" y="540.3" text-anchor="middle" font-size="27" font-family="'Liberation Sans', sans-serif">50</text><text x="615.4" y="540.3" text-anchor="middle" font-size="27" font-family="'Liberation Sans', sans-serif">100</text><text x="711.5" y="540.3" text-anchor="middle" font-size="27" font-family="'Liberation Sans', sans-serif">150</text><text x="59.2" y="491.5" text-anchor="end" font-size="27" font-family="'Liberation Sans', sans-serif">0</text><text x="59.2" y="428" text-anchor="end" font-size="27" font-family="'Liberation Sans', sans-serif">1</text><text x="59.2" y="364.4" text-anchor="end" font-size="27" font-family="'Liberation Sans', sans-serif">2</text><text x="59.2" y="300.9" text-anchor="end" font-size="27" font-family="'Liberation Sans', sans-serif">3</text><text x="59.2" y="237.3" text-anchor="end" font-size="27" font-family="'Liberation Sans', sans-serif">4</text><text x="59.2" y="173.8" text-anchor="end" font-size="27" font-family="'Liberation Sans', sans-serif">5</text><text x="59.2" y="110.3" text-anchor="end" font-size="27" font-family="'Liberation Sans', sans-serif">6</text><text x="59.2" y="46.7" text-anchor="end" font-size="27" font-family="'Liberation Sans', sans-serif">7</text><text x="322.6" y="576.8" font-size="26.3" textLength="202.8" lengthAdjust="spacingAndGlyphs" font-family="'Liberation Sans', sans-serif">Temperature (°C)</text><text transform="rotate(-90)" font-size="26.1" font-family="'Liberation Sans', sans-serif"><tspan x="-412.6" y="21.1" textLength="99.4" lengthAdjust="spacingAndGlyphs">Modulus</tspan> <tspan x="-307.3" y="21.1" textLength="206.9" lengthAdjust="spacingAndGlyphs">of elasticity (GPa)</tspan></text><text x="161.0" y="398" font-size="22" font-style="italic" font-family="'Liberation Serif', serif">γ</text><text x="168.6" y="398" font-size="20.4" letter-spacing="0.25" font-style="italic" font-family="'Liberation Sans', sans-serif">-relaxation</text><text x="453.5" y="480.9" font-size="22" font-style="italic" font-family="'Liberation Serif', serif">α</text><text x="465.2" y="480.9" font-size="20.4" letter-spacing="0.25" font-style="italic" font-family="'Liberation Sans', sans-serif">-relaxation</text><rect x="605.7" y="30.7" width="139.9" height="183.4" fill="#fff" stroke="#d0d0d0" stroke-width="1.2"/><circle cx="636.4" cy="49.3" r="6.6" fill="#e0e1e3" stroke="#000" stroke-width="2.5"/><text x="670.6" y="56.3" font-size="21.4" letter-spacing="0" font-family="'Liberation Sans', sans-serif">PA 4</text><circle cx="636.4" cy="74.1" r="6.6" fill="#e0e1e3" stroke="#e0232a" stroke-width="2.5"/><text x="670.6" y="81.1" font-size="21.4" letter-spacing="0" font-family="'Liberation Sans', sans-serif">PA 6</text><circle cx="636.4" cy="98.9" r="6.6" fill="#e0e1e3" stroke="#2233a6" stroke-width="2.5"/><text x="670.6" y="105.9" font-size="21.4" letter-spacing="0" font-family="'Liberation Sans', sans-serif">PA 7</text><polygon points="636.4,119.3 630,130.5 642.8,130.5" fill="#868686" stroke="#000" stroke-width="2.5" stroke-linejoin="miter"/><text x="670.6" y="130.7" font-size="21.4" letter-spacing="0" font-family="'Liberation Sans', sans-serif">PA 8</text><polygon points="636.4,144.1 630,155.3 642.8,155.3" fill="#5a96dc" stroke="#2233a6" stroke-width="2.5" stroke-linejoin="miter"/><text x="670.6" y="155.5" font-size="21.4" letter-spacing="0" font-family="'Liberation Sans', sans-serif">PA 9</text><rect x="630.1" y="167" width="12.6" height="12.6" fill="#555555" stroke="#a9a9a9" stroke-width="2.4"/><text x="670.6" y="180.3" font-size="21.4" letter-spacing="0" font-family="'Liberation Sans', sans-serif">PA 10</text><rect x="630.1" y="191.8" width="12.6" height="12.6" fill="#e1291f" stroke="#f99494" stroke-width="2.4"/><text x="670.6" y="205.1" font-size="21.4" letter-spacing="0" font-family="'Liberation Sans', sans-serif">PA 11</text></svg>
</body></html>
